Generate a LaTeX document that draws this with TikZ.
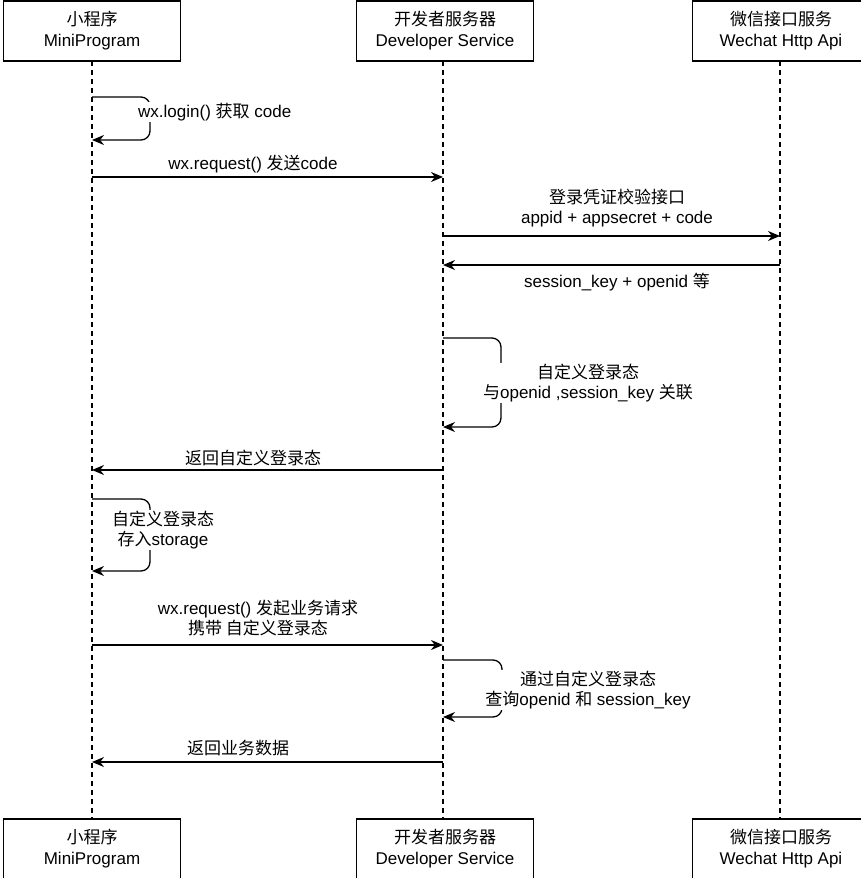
\documentclass[tikz,border=0pt]{standalone}
\usepackage{fontspec}
\setmainfont{Liberation Sans}
\newfontfamily\cjk{Noto Sans CJK SC}
\usetikzlibrary{arrows.meta}
\begin{document}
\begin{tikzpicture}[x=1pt,y=-1pt,
  box/.style={draw,line width=1.3pt,minimum width=177pt,minimum height=60pt,align=center,font=\fontsize{17}{21}\selectfont},
  life/.style={line width=1.1pt,dash pattern=on 5pt off 4pt},
  msg/.style={-{Stealth[length=12pt,width=10pt]},line width=1.3pt},
  lbl/.style={align=center,font=\fontsize{17}{20}\selectfont,fill=white,inner sep=1pt}]
\useasboundingbox (0,0) rectangle (861,878);
\node[box] (a1) at (92,31) {{\cjk 小程序}\\MiniProgram};
\node[box] (b1) at (445,31) {{\cjk 开发者服务器}\\Developer Service};
\node[box] (c1) at (781,31) {{\cjk 微信接口服务}\\Wechat Http Api};
\node[box] (a2) at (92,849) {{\cjk 小程序}\\MiniProgram};
\node[box] (b2) at (445,849) {{\cjk 开发者服务器}\\Developer Service};
\node[box] (c2) at (781,849) {{\cjk 微信接口服务}\\Wechat Http Api};
\draw[life] (92,61) -- (92,819);
\draw[life] (443,61) -- (443,819);
\draw[life] (780,61) -- (780,819);
\coordinate (p1) at (92,97); \coordinate (p2) at (92,140);
\draw[msg,rounded corners=9pt] (p1) -- (150,97) -- (150,140) -- (p2);
\node[lbl,anchor=west] (l1) at (137,112) {wx.login() {\cjk 获取} code};
\coordinate (q1) at (92,177); \coordinate (q2) at (443,177);
\draw[msg] (q1) -- (q2);
\node[lbl] (l2) at (253,164) {wx.request() {\cjk 发送}code};
\coordinate (r1) at (443,236); \coordinate (r2) at (780,236);
\draw[msg] (r1) -- (r2);
\node[lbl] (l3) at (617,208) {{\cjk 登录凭证校验接口}\\appid + appsecret + code};
\coordinate (s1) at (780,265); \coordinate (s2) at (443,265);
\draw[msg] (s1) -- (s2);
\node[lbl] (l4) at (617,282) {session\_key + openid {\cjk 等}};
\coordinate (t1) at (443,338); \coordinate (t2) at (443,427);
\draw[msg,rounded corners=9pt] (t1) -- (501,338) -- (501,427) -- (t2);
\node[lbl] (l5) at (588,383) {{\cjk 自定义登录态}\\{\cjk 与}openid ,session\_key {\cjk 关联}};
\coordinate (u1) at (443,470); \coordinate (u2) at (92,470);
\draw[msg] (u1) -- (u2);
\node[lbl] (l6) at (253,458) {\cjk 返回自定义登录态};
\coordinate (v1) at (92,499); \coordinate (v2) at (92,571);
\draw[msg,rounded corners=9pt] (v1) -- (150,499) -- (150,571) -- (v2);
\node[lbl] (l7) at (163,530) {{\cjk 自定义登录态}\\{\cjk 存入}storage};
\coordinate (w1) at (92,645); \coordinate (w2) at (443,645);
\draw[msg] (w1) -- (w2);
\node[lbl] (l8) at (258,618) {wx.request() {\cjk 发起业务请求}\\{\cjk 携带 自定义登录态}};
\coordinate (x1) at (443,660); \coordinate (x2) at (443,717);
\draw[msg,rounded corners=9pt] (x1) -- (502,660) -- (502,717) -- (x2);
\node[lbl] (l9) at (588,690) {{\cjk 通过自定义登录态}\\{\cjk 查询}openid {\cjk 和} session\_key};
\coordinate (y1) at (443,762); \coordinate (y2) at (92,762);
\draw[msg] (y1) -- (y2);
\node[lbl] (l10) at (238,748) {\cjk 返回业务数据};
\end{tikzpicture}
\end{document}
